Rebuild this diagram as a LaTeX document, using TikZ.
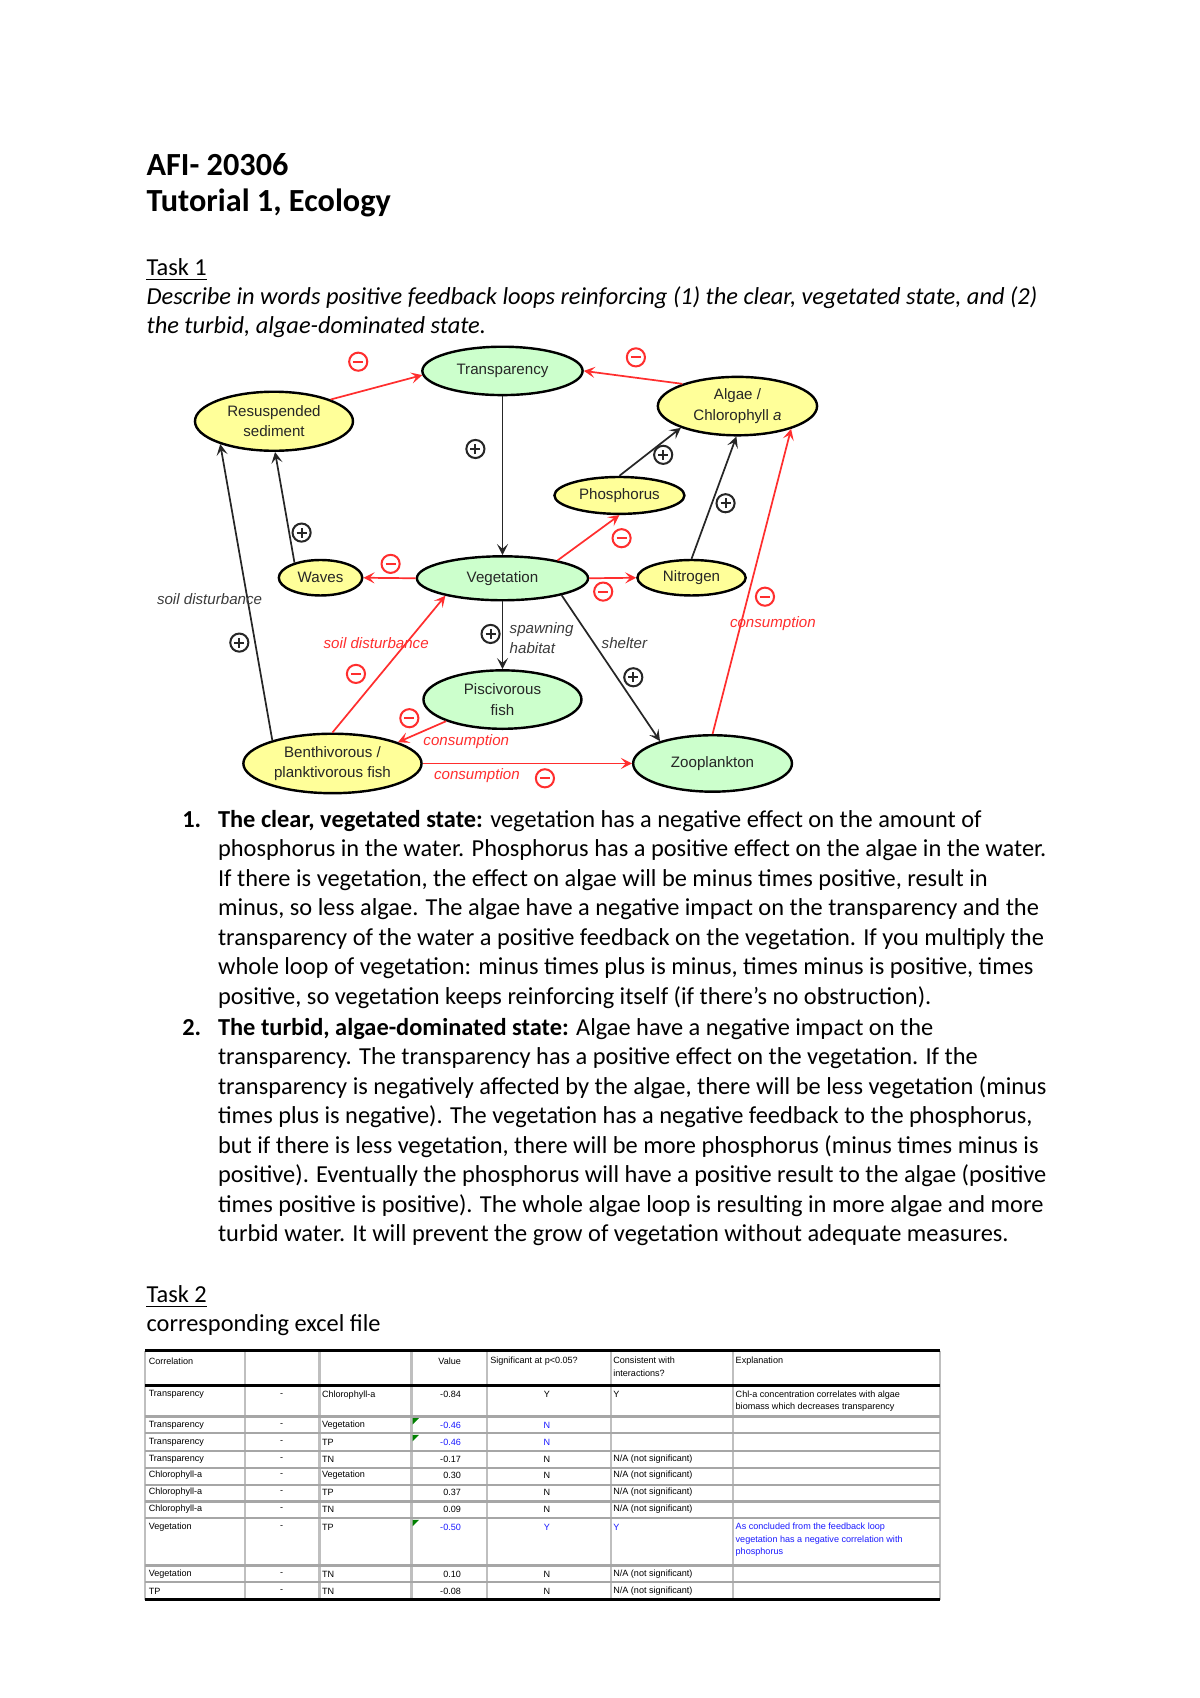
\documentclass[tikz,border=0pt]{standalone}
\usepackage{fontspec}
\setmainfont{Carlito}
\newfontfamily\arialf{Liberation Sans}
\usetikzlibrary{shapes.geometric,arrows.meta}
\definecolor{ylw}{HTML}{FFFF99}
\definecolor{grn}{HTML}{CCFFCC}
\definecolor{rd}{HTML}{FF2E2E}
\definecolor{bl}{HTML}{1A1AFF}
\definecolor{dk}{HTML}{262626}
\newcommand\nsig{N/A (not significant)}
\begin{document}
\begin{tikzpicture}[x=0.53726pt,y=-0.53726pt,
 ell/.style={ellipse, draw=black, line width=1.2pt, inner sep=0pt, align=center,
   font=\arialf\fontsize{7.5}{10}\selectfont, text=dk},
 yel/.style={ell, fill=ylw},
 gre/.style={ell, fill=grn},
 plussign/.style={circle, draw=dk, line width=1pt, minimum size=9pt, inner sep=0pt,
   path picture={\draw[dk,line width=1pt]
     ([xshift=-2.5pt]path picture bounding box.center) -- ([xshift=2.5pt]path picture bounding box.center)
     ([yshift=-2.5pt]path picture bounding box.center) -- ([yshift=2.5pt]path picture bounding box.center);}},
 minussign/.style={circle, draw=rd, line width=1pt, minimum size=9pt, inner sep=0pt,
   path picture={\draw[rd,line width=1pt]
     ([xshift=-2.5pt]path picture bounding box.center) -- ([xshift=2.5pt]path picture bounding box.center);}},
 barr/.style={draw=dk, line width=0.85pt, -{Stealth[length=5.5pt,width=5.5pt,inset=2.4pt]}},
 rarr/.style={draw=rd, line width=0.85pt, -{Stealth[length=5.5pt,width=5.5pt,inset=2.4pt]}},
 lab/.style={font=\arialf\itshape\fontsize{7.5}{10}\selectfont, inner sep=0pt, align=left},
 body/.style={anchor=base west, inner sep=0pt, font=\fontsize{12.1}{14.6}\selectfont},
 head/.style={anchor=base west, inner sep=0pt, font=\bfseries\fontsize{16}{19}\selectfont},
 tb/.style={anchor=west, inner sep=0pt, font=\arialf\fontsize{4.5}{5.5}\selectfont},
 tbr/.style={tb, anchor=east},
 tbc/.style={tb, anchor=center}
]
\useasboundingbox (0,0) rectangle (1108,1568);
\fill[white] (0,0) rectangle (1108,1568);

% ---------- header ----------
\node[head] (h1) at (135,161.6) {AFI- 20306};
\node[head] (h2) at (135,195.4) {Tutorial 1, Ecology};
\node[body] (t1) at (135,254) {Task 1};
\draw[line width=0.8pt] ([yshift=-2.2pt]t1.base west) -- ([yshift=-2.2pt]t1.base east);
\node[body,font=\itshape\fontsize{12.1}{14.6}\selectfont] (d1) at (135,281.6) {Describe in words positive feedback loops reinforcing (1) the clear, vegetated state, and (2)};
\node[body,font=\itshape\fontsize{12.1}{14.6}\selectfont] (d2) at (135,307.5) {the turbid, algae-dominated state.};

% ---------- diagram nodes ----------
\node[gre, minimum width=79.5pt, minimum height=24pt] (trans) at (464,342.5) {Transparency};
\node[yel, minimum width=78.4pt, minimum height=29.3pt] (res) at (253,389) {Resuspended\\sediment};
\node[yel, minimum width=79pt, minimum height=29pt] (alg) at (681,375) {Algae /\\Chlorophyll \textit{a}};
\node[yel, minimum width=64.5pt, minimum height=18.3pt] (phos) at (572,457.5) {Phosphorus};
\node[yel, minimum width=41.4pt, minimum height=17.6pt] (waves) at (296,533.5) {Waves};
\node[gre, minimum width=84.9pt, minimum height=21.8pt] (veg) at (464,534) {Vegetation};
\node[yel, minimum width=53.7pt, minimum height=17.6pt] (nit) at (638.6,533.5) {Nitrogen};
\node[gre, minimum width=78.4pt, minimum height=29pt] (pisc) at (464,646) {Piscivorous\\fish};
\node[yel, minimum width=88.4pt, minimum height=29.5pt] (benth) at (307,705) {Benthivorous /\\planktivorous fish};
\node[gre, minimum width=78.8pt, minimum height=28pt] (zoo) at (658,705) {Zooplankton};

% ---------- diagram edges ----------
\draw[rarr] (res.21) -- (trans.183);
\draw[rarr] (alg.158.6) -- (trans.east);
\draw[barr] (trans.south) -- (veg.north);
\draw[barr] (phos.north) -- (alg.201.6);
\draw[barr] (nit.north) -- (alg.268);
\draw[rarr] (veg.18) -- (phos.south);
\draw[rarr] (veg.east) -- (nit.west);
\draw[rarr] (veg.west) -- (waves.east);
\draw[barr] (waves.150) -- (res.272);
\draw[barr] (benth.159) -- (res.203.5);
\draw[rarr] (benth.north) -- (veg.197.6);
\draw[barr] (veg.south) -- (pisc.north);
\draw[barr] (veg.-16.4) -- (zoo.157.5);
\draw[rarr] (pisc.201.8) -- (benth.18);
\draw[rarr] (benth.east) -- (zoo.west);
\draw[rarr] (zoo.north) -- (alg.-23.4);

% ---------- signs ----------
\node[minussign] (s1) at (330.8,334) {};
\node[minussign] (s2) at (587.2,330) {};
\node[plussign] (s3) at (439,414.6) {};
\node[plussign] (s4) at (612.4,420) {};
\node[plussign] (s5) at (670,464.7) {};
\node[minussign] (s6) at (574,497) {};
\node[minussign] (s7) at (557,546.3) {};
\node[minussign] (s8) at (360.7,520.7) {};
\node[plussign] (s9) at (278.5,491.8) {};
\node[plussign] (s10) at (221,593.4) {};
\node[minussign] (s11) at (328.7,622.3) {};
\node[plussign] (s12) at (453,585.4) {};
\node[plussign] (s13) at (584.8,625.4) {};
\node[minussign] (s14) at (378,663.2) {};
\node[minussign] (s15) at (503.2,718.7) {};
\node[minussign] (s16) at (706.4,551) {};

% ---------- edge labels ----------
\node[lab, text=dk!90] (l1) at (193.5,553) {soil disturbance};
\node[lab, text=rd] (l2) at (347.4,594) {soil disturbance};
\node[lab, text=dk!90, anchor=west] (l3) at (470.3,589) {spawning\\habitat};
\node[lab, text=dk!90] (l4) at (576.6,593.4) {shelter};
\node[lab, text=rd] (l5) at (430.6,684.8) {consumption};
\node[lab, text=rd] (l6) at (440.4,716.5) {consumption};
\node[lab, text=rd] (l7) at (713.7,575.5) {consumption};

% ---------- answers ----------
\node[body,font=\bfseries\fontsize{12.1}{14.6}\selectfont] (n1) at (168,764) {1.};
\node[body] (a1) at (201,764) {\textbf{The clear, vegetated state:} vegetation has a negative effect on the amount of};
\node[body] (a2) at (201,791.2) {phosphorus in the water. Phosphorus has a positive effect on the algae in the water.};
\node[body] (a3) at (201,818.4) {If there is vegetation, the effect on algae will be minus times positive, result in};
\node[body] (a4) at (201,845.6) {minus, so less algae. The algae have a negative impact on the transparency and the};
\node[body] (a5) at (201,872.8) {transparency of the water a positive feedback on the vegetation. If you multiply the};
\node[body] (a6) at (201,900) {whole loop of vegetation: minus times plus is minus, times minus is positive, times};
\node[body] (a7) at (201,927.2) {positive, so vegetation keeps reinforcing itself (if there’s no obstruction).};
\node[body,font=\bfseries\fontsize{12.1}{14.6}\selectfont] (n2) at (168,956) {2.};
\node[body] (b1) at (201,956) {\textbf{The turbid, algae-dominated state:} Algae have a negative impact on the};
\node[body] (b2) at (201,983.2) {transparency. The transparency has a positive effect on the vegetation. If the};
\node[body] (b3) at (201,1010.4) {transparency is negatively affected by the algae, there will be less vegetation (minus};
\node[body] (b4) at (201,1037.6) {times plus is negative). The vegetation has a negative feedback to the phosphorus,};
\node[body] (b5) at (201,1064.8) {but if there is less vegetation, there will be more phosphorus (minus times minus is};
\node[body] (b6) at (201,1092) {positive). Eventually the phosphorus will have a positive result to the algae (positive};
\node[body] (b7) at (201,1119.2) {times positive is positive). The whole algae loop is resulting in more algae and more};
\node[body] (b8) at (201,1146.4) {turbid water. It will prevent the grow of vegetation without adequate measures.};

\node[body] (t2) at (135,1202.5) {Task 2};
\draw[line width=0.8pt] ([yshift=-2.2pt]t2.base west) -- ([yshift=-2.2pt]t2.base east);
\node[body] (t2b) at (135,1230) {corresponding excel file};

% ---------- table ----------
\foreach \xx in {134,226,295,380,450,564,677,868}
  \draw[black!25, line width=1.1pt] (\xx,1247.5) -- (\xx,1477.3);
\foreach \yy in {1308,1323.4,1339.7,1355.7,1371.2,1386.5,1401.9,1445.6,1461}
  \draw[black!35, line width=1.1pt] (134,\yy) -- (868,\yy);
\draw[black, line width=1.5pt] (134,1247.5) -- (868,1247.5);
\draw[black, line width=1.5pt] (134,1279) -- (868,1279);
\draw[black, line width=1.5pt] (134,1477.3) -- (868,1477.3);

\node[tb] (th1) at (137,1256.6) {Correlation};
\node[tbr] (th2) at (426,1256.6) {Value};
\node[tb] (th3) at (452.4,1256.6) {Significant at p<0.05?};
\node[tb] (th4) at (566,1256) {Consistent with};
\node[tb] (th5) at (566,1268) {interactions?};
\node[tb] (th6) at (679,1256.6) {Explanation};

\foreach \i/\y/\a/\b/\v/\s/\c/\k in {
 1/1288/Transparency/Chlorophyll-a/-0.84/Y/Y/black,
 2/1316.3/Transparency/Vegetation/-0.46/N//bl,
 3/1331.7/Transparency/TP/-0.46/N//bl,
 4/1347.4/Transparency/TN/-0.17/N/\nsig/black,
 5/1362.5/Chlorophyll-a/Vegetation/0.30/N/\nsig/black,
 6/1377.9/Chlorophyll-a/TP/0.37/N/\nsig/black,
 7/1393.6/Chlorophyll-a/TN/0.09/N/\nsig/black,
 8/1410.5/Vegetation/TP/-0.50/Y/Y/bl,
 9/1453.6/Vegetation/TN/0.10/N/\nsig/black,
 10/1469.6/TP/TN/-0.08/N/\nsig/black}{
  \node[tb] (ra\i) at (137,\y) {\a};
  \node[tbc] (rd\i) at (260,\y) {-};
  \node[tb] (rb\i) at (297,\y) {\b};
  \node[tbr, text=\k] (rv\i) at (426,\y) {\v};
  \node[tbc, text=\k] (rs\i) at (505,\y) {\s};
  \node[tb, text=\k] (rc\i) at (566,\y) {\c};
}
\foreach \y in {1309.5,1325,1403.5}
  \fill[green!50!black] (381,\y) -- (387,\y) -- (381,\y+6) -- cycle;

\node[tb] (e1) at (679,1288) {Chl-a concentration correlates with algae};
\node[tb] (e2) at (679,1299) {biomass which decreases transparency};
\node[tb, text=bl] (e3) at (679,1410.5) {As concluded from the feedback loop};
\node[tb, text=bl] (e4) at (679,1421.9) {vegetation has a negative correlation with};
\node[tb, text=bl] (e5) at (679,1433.3) {phosphorus};
\end{tikzpicture}
\end{document}
